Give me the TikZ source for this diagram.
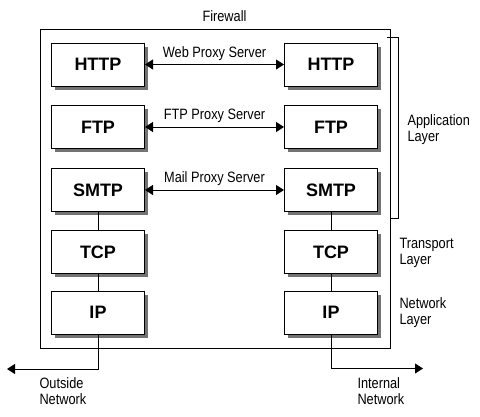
\documentclass[tikz,border=0pt]{standalone}
\usepackage{fontspec}
\setmainfont{Liberation Sans}
\newfontfamily\lblfont[FakeStretch=0.85]{Liberation Sans}
\usetikzlibrary{arrows.meta,shadows}
\begin{document}
\begin{tikzpicture}[x=1pt,y=-1pt,line width=1pt,
  layerbox/.style={draw,fill=white,minimum width=93pt,minimum height=43pt,inner sep=0pt,
    font=\fontsize{18}{20}\selectfont\bfseries,
    drop shadow={shadow xshift=3.5pt,shadow yshift=-3.5pt,fill=black!55,opacity=1}},
  lbl/.style={font=\lblfont\fontsize{15}{16}\selectfont,inner sep=0pt,align=left},
  plbl/.style={lbl,anchor=base,yshift=7.5pt},
  tip/.style={-{Triangle[length=8pt,width=10pt]}},
  tips/.style={{Triangle[length=8pt,width=10pt]}-{Triangle[length=8pt,width=10pt]}}]
\fill[white] (0,0) rectangle (480,416);
\useasboundingbox (0,0) rectangle (480,416);
% firewall frame
\draw (40,29) rectangle (390,348);
\node[lbl] (fwl) at (224.5,16.5) {Firewall};
% application layer bracket
\draw (387,37) -- (398,37) -- (398,218) -- (390,218);
% boxes
\node[layerbox] (http1) at (98,64.5) {HTTP};
\node[layerbox] (ftp1)  at (98,127) {FTP};
\node[layerbox] (smtp1) at (98,190) {SMTP};
\node[layerbox] (tcp1)  at (98,252) {TCP};
\node[layerbox] (ip1)   at (98,312.5) {IP};
\node[layerbox] (http2) at (331,64.5) {HTTP};
\node[layerbox] (ftp2)  at (331,127) {FTP};
\node[layerbox] (smtp2) at (331,190) {SMTP};
\node[layerbox] (tcp2)  at (331,252) {TCP};
\node[layerbox] (ip2)   at (331,312.5) {IP};
% proxies
\draw[tips] (http1) -- node[plbl] {Web Proxy Server} (http2);
\draw[tips] (ftp1) -- node[plbl] {FTP Proxy Server} (ftp2);
\draw[tips] (smtp1) -- node[plbl] {Mail Proxy Server} (smtp2);
% stacks
\draw (smtp1) -- (tcp1);
\draw (tcp1) -- (ip1);
\draw (smtp2) -- (tcp2);
\draw (tcp2) -- (ip2);
% networks
\coordinate (outtip) at (7,369);
\coordinate (intip) at (423,368.5);
\draw[tip] (ip1) |- (outtip);
\draw[tip] (ip2) |- (intip);
\node[lbl,anchor=west] (outl) at (39,391) {Outside\\Network};
\node[lbl,anchor=west] (inl) at (357,391) {Internal\\Network};
% layer labels
\node[lbl,anchor=west] (appl) at (407,130) {Application\\Layer};
\node[lbl,anchor=west] (trl) at (399,253) {Transport\\Layer};
\node[lbl,anchor=west] (nwl) at (399,313) {Network\\Layer};
\end{tikzpicture}
\end{document}
